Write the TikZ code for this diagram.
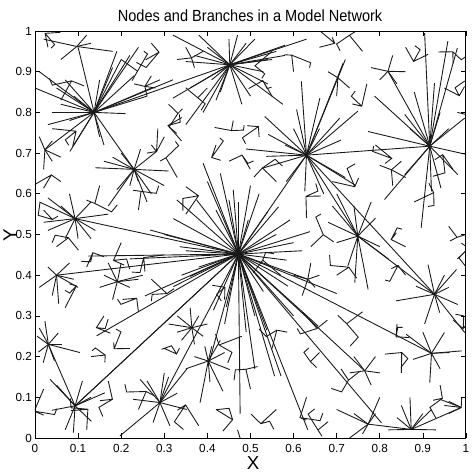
\documentclass[tikz,border=0pt]{standalone}
\usepackage{fontspec}
\setmainfont{Liberation Sans}
\newfontfamily\titlefont[FakeStretch=0.9]{Liberation Sans}
\newcommand{\hubspokes}[2]{\foreach \ex/\ey in {#2} \draw[spoke] (#1) -- (\ex,\ey);}
\begin{document}
\begin{tikzpicture}[
    x=12.93cm, y=12.21cm,
    spoke/.style={black!90, line width=0.75pt},
    branch/.style={black!90, line width=0.75pt},
    frame/.style={draw, line width=0.8pt},
    tick/.style={line width=0.6pt},
    ticklabel/.style={font=\fontsize{10}{12}\selectfont, inner sep=1pt},
    axislabel/.style={font=\fontsize{16}{18}\selectfont, inner sep=0pt}
]
\useasboundingbox (-0.0812,-0.0885) rectangle (1.0186,1.0762);

% Noduri principale
\coordinate (Z) at (0.472,0.452);
\coordinate (A) at (0.137,0.800);
\coordinate (B) at (0.452,0.917);
\coordinate (C) at (0.230,0.660);
\coordinate (D) at (0.630,0.695);
\coordinate (E) at (0.916,0.717);
\coordinate (F) at (0.927,0.353);
\coordinate (G) at (0.749,0.496);
\coordinate (H) at (0.920,0.208);
\coordinate (I) at (0.093,0.539);
\coordinate (J) at (0.031,0.230);
\coordinate (K) at (0.093,0.079);
\coordinate (L) at (0.290,0.087);
\coordinate (M) at (0.402,0.189);
\coordinate (N) at (0.364,0.271);
\coordinate (O) at (0.191,0.384);
\coordinate (P) at (0.050,0.400);
\coordinate (Q) at (0.773,0.034);
\coordinate (R) at (0.873,0.021);
\coordinate (S) at (0.989,0.075);
% Noduri mici
\coordinate (a1) at (0.097,0.962);
\coordinate (a2) at (0.023,0.708);
\coordinate (a3) at (0.255,0.864);
\coordinate (a4) at (0.282,0.704);
\coordinate (a5) at (0.363,0.934);
\coordinate (a6) at (0.703,0.885);
\coordinate (a7) at (0.819,0.901);
\coordinate (a8) at (0.827,0.659);
\coordinate (a9) at (0.633,0.390);
\coordinate (a10) at (0.765,0.165);

\begin{scope}
\clip (0,0) rectangle (1,1);

% Ramuri din noduri
\hubspokes{Z}{0.39/0.675, 0.40/0.63, 0.43/0.65, 0.45/0.585, 0.472/0.58, 0.495/0.536,
  0.54/0.556, 0.565/0.568, 0.592/0.536, 0.638/0.507, 0.63/0.695, 0.52/0.60, 0.50/0.62,
  0.46/0.61, 0.329/0.585, 0.375/0.585, 0.321/0.539, 0.267/0.511, 0.093/0.539, 0.336/0.47,
  0.124/0.447, 0.05/0.40, 0.22/0.44, 0.255/0.349, 0.321/0.372, 0.36/0.397, 0.143/0.251,
  0.093/0.079, 0.098/0.084, 0.29/0.087, 0.405/0.189, 0.414/0.314, 0.444/0.322, 0.476/0.06,
  0.51/0.17, 0.538/0.265, 0.556/0.152, 0.571/0.152, 0.633/0.02, 0.657/0.275, 0.70/0.355,
  0.765/0.165, 0.804/0.037, 0.92/0.208, 0.587/0.373, 0.584/0.437, 0.51/0.30, 0.633/0.39,
  0.62/0.46, 0.38/0.42, 0.30/0.50, 0.35/0.46, 0.42/0.56, 0.56/0.50, 0.60/0.48, 0.44/0.28,
  0.49/0.26, 0.34/0.40, 0.60/0.30, 0.53/0.36}
\hubspokes{A}{0.00/0.86, 0.01/0.90, 0.05/0.86, 0.07/0.88, 0.10/0.96, 0.09/0.84, 0.06/0.82,
  0.04/0.80, 0.03/0.77, 0.08/0.78, 0.081/0.704, 0.09/0.72, 0.15/0.74, 0.16/0.72, 0.23/0.66,
  0.21/0.797, 0.27/0.86, 0.23/0.89, 0.20/0.93, 0.19/0.95, 0.22/0.94, 0.24/0.96, 0.452/0.917,
  0.32/0.88, 0.26/0.84, 0.18/0.91, 0.15/0.88, 0.023/0.708}
\hubspokes{B}{0.32/0.99, 0.38/0.99, 0.45/0.98, 0.47/0.99, 0.51/0.98, 0.63/0.98, 0.58/0.965,
  0.58/0.94, 0.55/0.93, 0.35/0.925, 0.37/0.94, 0.40/0.96, 0.32/0.835, 0.35/0.77, 0.39/0.80,
  0.42/0.83, 0.48/0.82, 0.50/0.84, 0.54/0.87, 0.575/0.82, 0.53/0.90, 0.43/0.85, 0.41/0.88,
  0.54/0.93, 0.56/0.95, 0.49/0.97, 0.36/0.86}
\hubspokes{C}{0.14/0.664, 0.16/0.68, 0.18/0.69, 0.20/0.70, 0.245/0.71, 0.282/0.704, 0.31/0.656,
  0.30/0.62, 0.27/0.60, 0.26/0.58, 0.22/0.62, 0.24/0.63, 0.19/0.61, 0.17/0.57}
\hubspokes{D}{0.618/0.876, 0.607/0.807, 0.661/0.835, 0.703/0.885, 0.715/0.921, 0.749/0.803,
  0.707/0.786, 0.71/0.732, 0.916/0.717, 0.533/0.79, 0.541/0.746, 0.49/0.71, 0.537/0.692,
  0.528/0.663, 0.583/0.63, 0.626/0.606, 0.742/0.622, 0.72/0.64, 0.927/0.353, 0.749/0.496,
  0.60/0.76, 0.66/0.76, 0.58/0.72, 0.67/0.60}
\hubspokes{E}{0.904/0.995, 0.958/0.975, 0.98/0.958, 0.819/0.901, 0.788/0.84, 0.773/0.753,
  0.858/0.795, 0.927/0.872, 0.997/0.786, 1.0/0.697, 0.981/0.647, 0.942/0.614, 0.92/0.606,
  0.896/0.516, 0.811/0.586, 0.858/0.647, 0.87/0.76, 0.96/0.76, 0.94/0.80, 0.88/0.85}
\hubspokes{F}{0.912/0.426, 0.884/0.373, 0.838/0.337, 0.904/0.28, 0.939/0.308, 0.981/0.328,
  0.978/0.414, 0.997/0.259, 0.749/0.496, 0.95/0.40, 0.96/0.37}
\hubspokes{G}{0.69/0.57, 0.70/0.60, 0.74/0.57, 0.78/0.58, 0.79/0.54, 0.68/0.53, 0.726/0.423,
  0.742/0.382, 0.773/0.365, 0.82/0.44, 0.80/0.47, 0.70/0.48}
\hubspokes{H}{0.861/0.255, 0.95/0.259, 0.962/0.21, 0.99/0.214, 0.877/0.193, 0.916/0.136,
  0.94/0.17, 0.90/0.26}
\hubspokes{I}{0.01/0.58, 0.03/0.59, 0.06/0.57, 0.08/0.60, 0.13/0.58, 0.17/0.55, 0.14/0.51,
  0.13/0.49, 0.10/0.49, 0.07/0.49, 0.03/0.51, 0.02/0.53}
\hubspokes{J}{0.023/0.287, 0.054/0.258, 0.062/0.23, 0.008/0.211, 0.019/0.185, 0.104/0.21,
  0.093/0.079, 0.005/0.25, 0.045/0.19, 0.01/0.27}
\hubspokes{K}{0.035/0.144, 0.05/0.13, 0.089/0.013, 0.162/0.111, 0.039/0.068, 0.131/0.041,
  0.11/0.14, 0.07/0.02, 0.13/0.10}
\hubspokes{L}{0.244/0.144, 0.26/0.14, 0.31/0.15, 0.352/0.07, 0.313/0.03, 0.274/0.038,
  0.197/0.005, 0.352/0.169, 0.228/0.095, 0.33/0.11, 0.30/0.16}
\hubspokes{M}{0.41/0.225, 0.452/0.168, 0.406/0.138, 0.383/0.087, 0.436/0.115, 0.394/0.225,
  0.37/0.20, 0.44/0.21, 0.35/0.17, 0.43/0.24}
\hubspokes{N}{0.33/0.30, 0.36/0.32, 0.38/0.30, 0.40/0.28, 0.39/0.25, 0.37/0.23, 0.33/0.26,
  0.31/0.28, 0.34/0.24}
\hubspokes{O}{0.17/0.43, 0.20/0.43, 0.22/0.37, 0.15/0.37, 0.16/0.40, 0.18/0.34, 0.24/0.39,
  0.25/0.40}
\hubspokes{P}{0.01/0.37, 0.03/0.42, 0.08/0.43, 0.04/0.35, 0.055/0.33, 0.10/0.37, 0.09/0.39}
\hubspokes{Q}{0.70/0.07, 0.74/0.06, 0.79/0.06, 0.80/0.10, 0.73/0.00, 0.76/0.01, 0.873/0.021}
\hubspokes{R}{0.87/0.10, 0.85/0.08, 0.92/0.07, 0.93/0.02, 0.82/0.02, 0.989/0.075, 0.84/0.05,
  0.90/0.06}
\hubspokes{S}{0.94/0.095, 0.96/0.09, 0.99/0.10, 0.95/0.08, 0.96/0.06}
\hubspokes{a1}{0.02/0.98, 0.06/0.93, 0.13/0.97, 0.18/0.95, 0.12/0.99}
\hubspokes{a2}{0.01/0.74, 0.04/0.73, 0.02/0.66, 0.04/0.68, 0.06/0.69}
\hubspokes{a3}{0.23/0.87, 0.27/0.89, 0.29/0.88, 0.26/0.84, 0.28/0.86}
\hubspokes{a4}{0.285/0.76, 0.30/0.74, 0.27/0.72, 0.26/0.70}
\hubspokes{a5}{0.33/0.93, 0.35/0.96, 0.39/0.95, 0.37/0.91}
\hubspokes{a6}{0.68/0.90, 0.72/0.93, 0.73/0.86, 0.70/0.84}
\hubspokes{a7}{0.78/0.91, 0.83/0.94, 0.86/0.90, 0.84/0.87, 0.80/0.88}
\hubspokes{a8}{0.80/0.67, 0.85/0.68, 0.83/0.62, 0.86/0.64}
\hubspokes{a9}{0.60/0.40, 0.64/0.43, 0.66/0.40, 0.62/0.35, 0.65/0.37}
\hubspokes{a10}{0.74/0.20, 0.79/0.20, 0.80/0.16, 0.78/0.13, 0.73/0.16}

% Ramuri mici izolate
\pgfmathsetseed{2718}
\foreach \bx/\by in {0.03/0.96, 0.20/0.93, 0.27/0.97, 0.55/0.95, 0.60/0.90, 0.66/0.96,
  0.76/0.95, 0.86/0.96, 0.97/0.92, 0.95/0.86, 0.06/0.83, 0.31/0.82, 0.40/0.86, 0.46/0.78,
  0.55/0.84, 0.77/0.87, 0.98/0.80, 0.04/0.76, 0.34/0.73, 0.42/0.72, 0.52/0.74, 0.79/0.72,
  0.97/0.66, 0.06/0.63, 0.15/0.62, 0.33/0.64, 0.45/0.68, 0.56/0.63, 0.69/0.63, 0.88/0.58,
  0.02/0.56, 0.24/0.56, 0.35/0.55, 0.63/0.54, 0.96/0.52, 0.05/0.47, 0.20/0.48, 0.30/0.45,
  0.64/0.47, 0.86/0.47, 0.98/0.44, 0.12/0.42, 0.27/0.39, 0.57/0.40, 0.70/0.40, 0.86/0.40,
  0.07/0.32, 0.16/0.30, 0.24/0.31, 0.44/0.34, 0.62/0.31, 0.76/0.31, 0.84/0.28, 0.97/0.29,
  0.13/0.20, 0.22/0.22, 0.30/0.22, 0.48/0.25, 0.55/0.22, 0.66/0.21, 0.71/0.17, 0.85/0.16,
  0.02/0.12, 0.17/0.14, 0.24/0.07, 0.38/0.03, 0.42/0.07, 0.50/0.12, 0.56/0.07, 0.63/0.10,
  0.68/0.04, 0.94/0.13, 0.12/0.02, 0.47/0.02}{
  \pgfmathsetmacro{\ta}{360*rnd}
  \pgfmathsetmacro{\la}{0.025+0.035*rnd}
  \pgfmathsetmacro{\tb}{\ta+60+240*rnd}
  \pgfmathsetmacro{\lb}{0.02+0.03*rnd}
  \pgfmathsetmacro{\tc}{\ta+ifthenelse(rnd<0.5,90,-90)+20*rnd-10}
  \pgfmathsetmacro{\lc}{0.015+0.025*rnd}
  \pgfmathsetmacro{\td}{\tb+ifthenelse(rnd<0.5,80,-80)}
  \pgfmathsetmacro{\ld}{0.01+0.02*rnd}
  \draw[branch] (\bx,\by) -- ++(\ta:\la) coordinate (tip) -- ++(\tc:\lc)
    (tip) -- ++(\tb:\lb) -- ++(\td:\ld);
}
\end{scope}

% Axe
\draw[frame] (0,0) rectangle (1,1);
\foreach \i in {0,...,10}{
  \pgfmathsetmacro{\t}{\i/10}
  \draw[tick] (\t,0) -- ++(0,0.0123) (\t,1) -- ++(0,-0.0123);
  \draw[tick] (0,\t) -- ++(0.0116,0) (1,\t) -- ++(-0.0116,0);
  \ifnum\i=0 \def\lab{0}\else\ifnum\i=10 \def\lab{1}\else\def\lab{0.\i}\fi\fi
  \node[ticklabel] (xl\i) at (\t,-0.0246) {\lab};
  \node[ticklabel, anchor=east] (yl\i) at (-0.004,\t) {\lab};
}
\node[axislabel] (xlab) at (0.506,-0.0614) {X};
\node[axislabel, rotate=90] (ylab) at (-0.058,0.499) {Y};
\node[font=\titlefont\fontsize{13.8}{16}\selectfont] (title) at (0.499,1.037)
  {Nodes and Branches in a Model Network};

\end{tikzpicture}
\end{document}
